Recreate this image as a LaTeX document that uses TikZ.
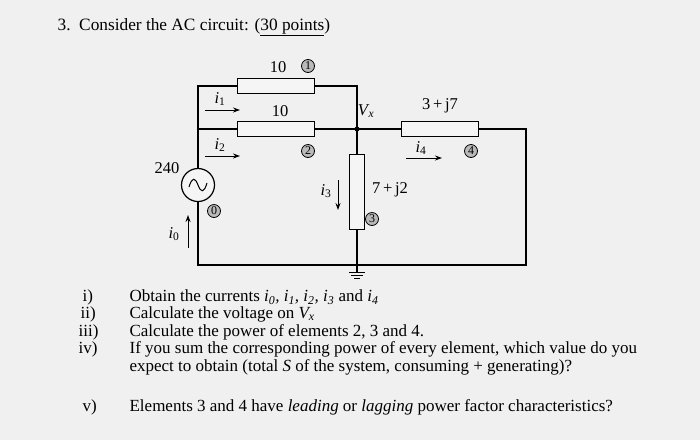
\documentclass[tikz,border=0pt]{standalone}
\usepackage{fontspec}
\setmainfont{Liberation Serif}
\usetikzlibrary{arrows.meta}
\begin{document}
\begin{tikzpicture}[x=1pt,y=-1pt,line width=1.2pt,
  res/.style={draw,fill=white!92!gray,minimum width=77pt,minimum height=15pt,inner sep=0pt},
  vres/.style={draw,fill=white!92!gray,minimum width=15pt,minimum height=75pt,inner sep=0pt},
  num/.style={circle,draw,line width=0.8pt,fill=gray!55,inner sep=0pt,minimum size=13pt,font=\fontsize{12}{12}\selectfont},
  lbl/.style={font=\fontsize{16.5}{16}\selectfont,inner sep=0pt},
  cur/.style={-{Stealth[length=7pt,width=5pt]},line width=1pt},
  txt/.style={font=\fontsize{17}{17}\selectfont,anchor=west,inner sep=0pt}]
\fill[gray!12] (0,0) rectangle (700,440);
\useasboundingbox (0,0) rectangle (700,440);
% nodes
\node[res] (r1) at (276,86) {};
\node[res] (r2) at (276,129) {};
\node[res] (r4) at (440,129) {};
\node[vres] (r3) at (357,192) {};
\node[circle,draw,fill=white!92!gray,minimum size=33pt,inner sep=0pt] (src) at (198,185) {};
\draw[line width=1pt] (189,187) .. controls (192,177) and (195,177) .. (198,185) .. controls (201,193) and (204,193) .. (207,183);
\coordinate (tl) at (198,86);
\coordinate (ml) at (198,129);
\coordinate (tr) at (357,86);
\coordinate (vx) at (357,129);
\coordinate (rr) at (526,129);
\coordinate (br) at (526,265);
\coordinate (bl) at (198,265);
\coordinate (gnd) at (357,265);
\draw (src.north) -- (tl) -- (r1.west);
\draw (r1.east) -- (tr) -- (vx);
\draw (ml) -- (r2.west);
\draw (r2.east) -- (vx) -- (r4.west);
\draw (r4.east) -- (rr) -- (br) -- (bl) -- (src.south);
\draw (vx) -- (r3.north);
\draw (r3.south) -- (gnd) -- (357,272);
\fill (vx) circle (2.5pt);
\draw[line width=1pt] (349,272) -- (365,272) (351,275) -- (363,275) (354,278) -- (360,278);
% labels
\node[lbl] at (278,67) {10};
\node[num] at (308,66) {1};
\node[lbl] at (280,111) {10};
\node[num] at (308,151) {2};
\node[lbl] at (440,106) {3\,+\,j7};
\node[num] at (471,151) {4};
\node[lbl] at (390,190) {7\,+\,j2};
\node[num] at (372,219) {3};
\node[lbl] at (167,168) {240};
\node[num] at (214,211) {0};
\node[lbl] at (366,111) {\textit{V}\textsubscript{\kern-1pt\textit{x}}};
% currents
\draw[cur] (205,110) -- (240,110); \node[lbl] at (220,99) {\textit{i}\textsubscript{1}};
\draw[cur] (205,156) -- (240,156); \node[lbl] at (220,145) {\textit{i}\textsubscript{2}};
\draw[cur] (406,158) -- (442,158); \node[lbl] at (421,148) {\textit{i}\textsubscript{4}};
\draw[cur] (338,180) -- (338,210); \node[lbl] at (326,191) {\textit{i}\textsubscript{3}};
\draw[cur] (188,248) -- (188,215); \node[lbl] at (174,234) {\textit{i}\textsubscript{0}};
% text
\node[txt,font=\fontsize{17.3}{17}\selectfont] at (57,27) {3.\ \ Consider the AC circuit: (\underline{30 points})};
\node[txt] at (82,297) {i)};
\node[txt] at (80,314) {ii)};
\node[txt] at (78,332) {iii)};
\node[txt] at (78,349) {iv)};
\node[txt] at (82,407) {v)};
\node[txt] at (129,297) {Obtain the currents \textit{i\textsubscript{0}, i\textsubscript{1}, i\textsubscript{2}, i\textsubscript{3}} and \textit{i\textsubscript{4}}};
\node[txt] at (129,314) {Calculate the voltage on \textit{V\textsubscript{x}}};
\node[txt] at (129,332) {Calculate the power of elements 2, 3 and 4.};
\node[txt] at (129,349) {If you sum the corresponding power of every element, which value do you};
\node[txt] at (129,367) {expect to obtain (total \textit{S} of the system, consuming + generating)?};
\node[txt] at (129,407) {Elements 3 and 4 have \textit{leading} or \textit{lagging} power factor characteristics?};
\end{tikzpicture}
\end{document}
